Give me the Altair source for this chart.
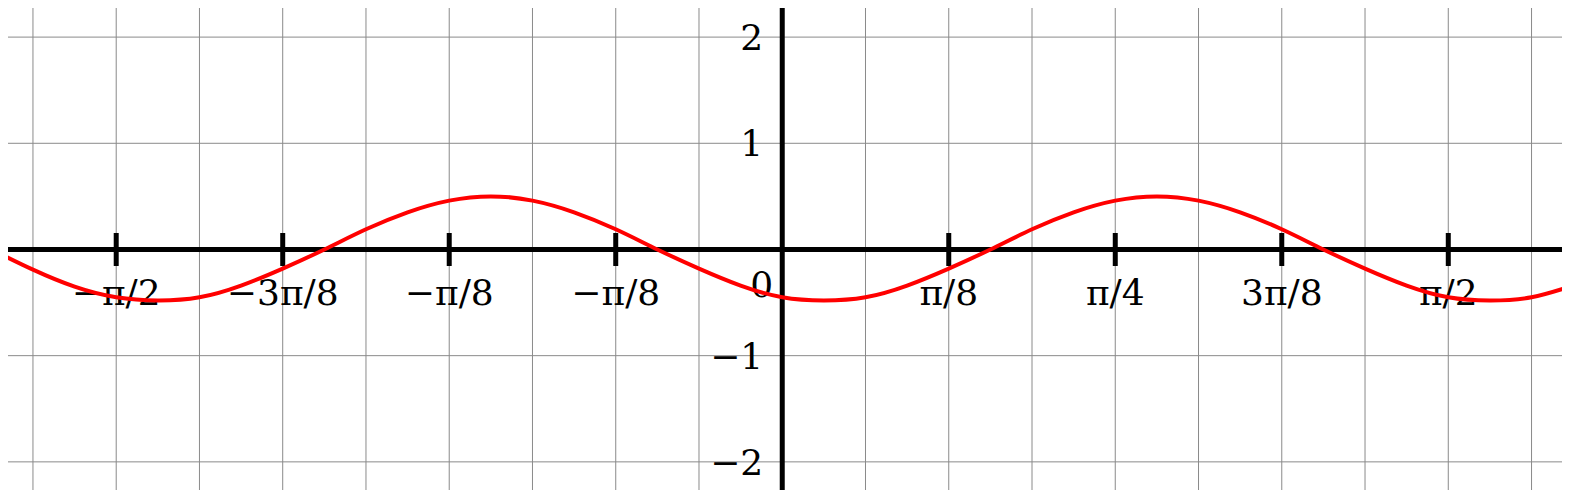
import math
import pandas as pd
import altair as alt

# curve samples: positions in multiples of pi/32, heights
curve_k = list(range(-19, 20))
curve_y = [0.00, -0.19, -0.35, -0.45, -0.48, -0.45, -0.34, -0.18,
           0.00, 0.19, 0.35, 0.46, 0.50, 0.46, 0.35, 0.19,
           0.00, -0.18, -0.34, -0.45, -0.48, -0.45, -0.34, -0.18,
           0.00, 0.19, 0.35, 0.46, 0.50, 0.46, 0.35, 0.19,
           0.00, -0.18, -0.34, -0.45, -0.48, -0.45, -0.34]

# x ticks in multiples of pi/8 (labels as printed in the figure)
tick_k = [-4, -3, -2, -1, 1, 2, 3, 4]
tick_labels = ["−π/2", "−3π/8", "−π/8", "−π/8", "π/8", "π/4", "3π/8", "π/2"]

# y labels
ylab_vals = [2, 1, -1, -2]
ylab_text = ["2", "1", "−1", "−2"]

# grid: vertical every pi/16, horizontal every 1
grid_xk = list(range(-9, 10))
grid_y = [-2, -1, 0, 1, 2]

FONT = "DejaVu Serif"
FSIZE = 36

curve = pd.DataFrame({"x": [k * math.pi / 32 for k in curve_k], "y": curve_y})
ticks = pd.DataFrame({"x": [k * math.pi / 8 for k in tick_k], "y": 0, "label": tick_labels})
ylabs = pd.DataFrame({"x": 0, "y": ylab_vals, "label": ylab_text})
vgrid = pd.DataFrame({"x": [k * math.pi / 16 for k in grid_xk]})
hgrid = pd.DataFrame({"y": grid_y})
origin = pd.DataFrame({"x": [0], "y": [0], "label": ["0"]})

xs = alt.Scale(domain=[-1.826, 1.839], nice=False, zero=False)
ys = alt.Scale(domain=[-2.265, 2.274], nice=False, zero=False)

def X(f="x"):
    return alt.X(f + ":Q", scale=xs, axis=None)

def Y(f="y"):
    return alt.Y(f + ":Q", scale=ys, axis=None)

grid_v = alt.Chart(vgrid).mark_rule(color="#8a8a8a", strokeWidth=1).encode(x=X())
grid_h = alt.Chart(hgrid).mark_rule(color="#8a8a8a", strokeWidth=1).encode(y=Y())

axis_x = alt.Chart(origin).mark_rule(color="black", strokeWidth=5).encode(y=Y())
axis_y = alt.Chart(origin).mark_rule(color="black", strokeWidth=5).encode(x=X())

tick_marks = alt.Chart(ticks).mark_tick(
    orient="vertical", size=33, thickness=5, color="black", opacity=1
).encode(x=X(), y=Y())

tick_text = alt.Chart(ticks).mark_text(
    baseline="alphabetic", align="center", dy=56, font=FONT, fontSize=FSIZE, color="black"
).encode(x=X(), y=Y(), text="label:N")

zero_text = alt.Chart(origin).mark_text(
    baseline="alphabetic", align="right", dx=-9, dy=48, font=FONT, fontSize=FSIZE, color="black"
).encode(x=X(), y=Y(), text="label:N")

y_text = alt.Chart(ylabs).mark_text(
    baseline="alphabetic", align="right", dx=-19, dy=13, font=FONT, fontSize=FSIZE, color="black"
).encode(x=X(), y=Y(), text="label:N")

line = alt.Chart(curve).mark_line(color="#ff0000", strokeWidth=4, interpolate="natural", clip=True).encode(
    x=X(), y=Y()
)

chart = alt.layer(
    grid_v, grid_h, axis_x, axis_y, tick_marks, tick_text, zero_text, y_text, line
).properties(
    width=1554, height=482, padding=0,
    autosize=alt.AutoSizeParams(type="none"),
    background="white"
).configure_view(stroke=None)

chart.save("out.html", embed_options={"renderer": "svg", "actions": False})
